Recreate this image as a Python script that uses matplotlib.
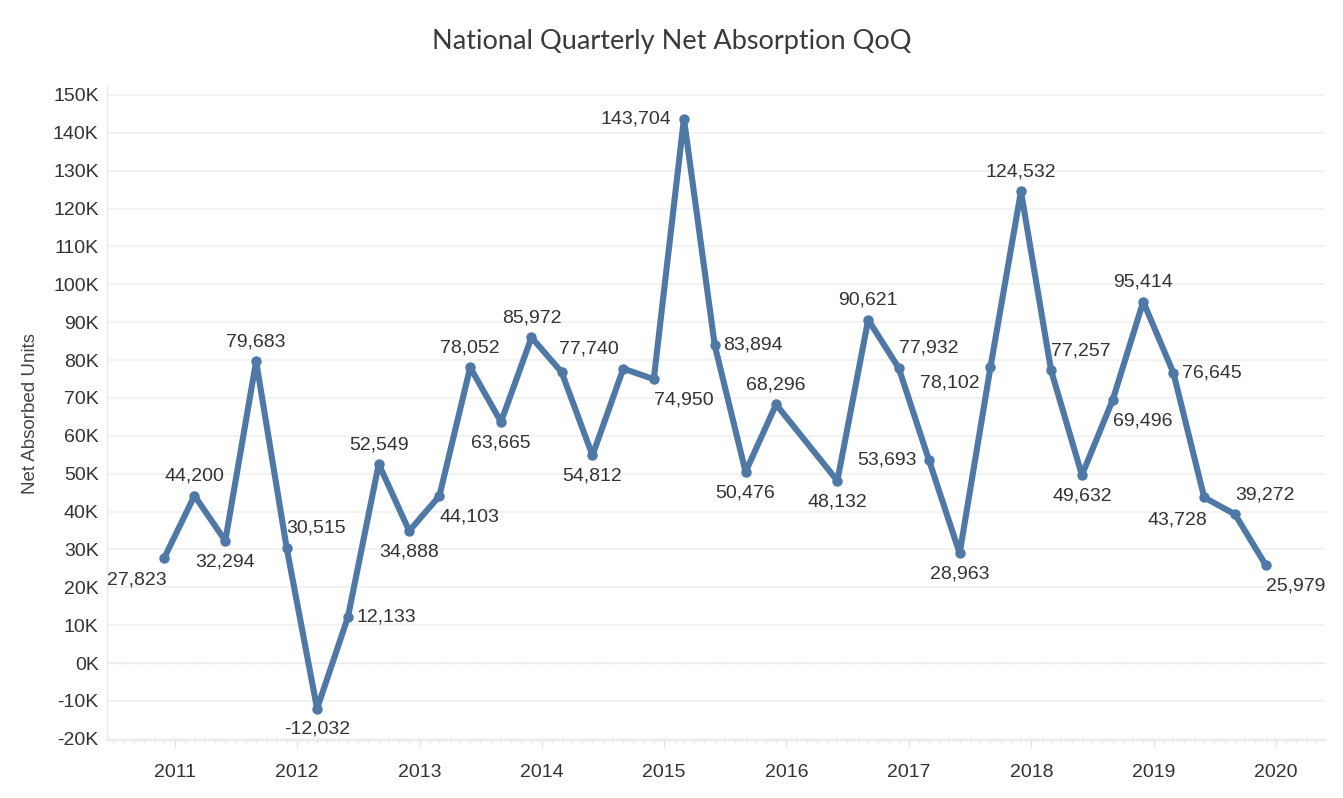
import pandas as pd
import matplotlib.pyplot as plt
import matplotlib.dates as mdates
from matplotlib.ticker import FuncFormatter, MultipleLocator

# ── Data (quarterly, Q1 2016 missing in source) ───────────────
quarters = [
    "2010-12-01", "2011-03-01", "2011-06-01", "2011-09-01",
    "2011-12-01", "2012-03-01", "2012-06-01", "2012-09-01",
    "2012-12-01", "2013-03-01", "2013-06-01", "2013-09-01",
    "2013-12-01", "2014-03-01", "2014-06-01", "2014-09-01",
    "2014-12-01", "2015-03-01", "2015-06-01", "2015-09-01",
    "2015-12-01", "2016-06-01", "2016-09-01",
    "2016-12-01", "2017-03-01", "2017-06-01", "2017-09-01",
    "2017-12-01", "2018-03-01", "2018-06-01", "2018-09-01",
    "2018-12-01", "2019-03-01", "2019-06-01", "2019-09-01",
    "2019-12-01",
]
absorbed = [
    27823, 44200, 32294, 79683,
    30515, -12032, 12133, 52549,
    34888, 44103, 78052, 63665,
    85972, 76800, 54812, 77740,
    74950, 143704, 83894, 50476,
    68296, 48132, 90621,
    77932, 53693, 28963, 78102,
    124532, 77257, 49632, 69496,
    95414, 76645, 43728, 39272,
    25979,
]
# where each value label sits relative to its point ("" = no label)
label_side = [
    "SW", "N", "S", "N",
    "NE", "S", "E", "N",
    "S", "SE", "N", "S",
    "N", "", "S", "NW",
    "SE", "W", "E", "S",
    "N", "S", "N",
    "NE", "W", "S", "WS",
    "N", "NE", "S", "SE",
    "N", "E", "SW", "NE",
    "SE",
]
year_ticks = [str(y) for y in range(2011, 2021)]

dates = pd.to_datetime(quarters)

# ── Style ──────────────────────────────────────────────
blue = "#4e79a7"
text_col = "#333333"
plt.rcParams["font.family"] = ["Liberation Sans", "DejaVu Sans"]

offsets = {
    "N": ((0, 14), "center"), "S": ((0, -15), "center"),
    "E": ((6, 0), "left"), "W": ((-9, 0), "right"),
    "NE": ((0, 14), "left"), "SE": ((0, -15), "left"),
    "NW": ((-3, 14), "right"), "SW": ((2, -16), "right"),
    "WS": ((-8, -11), "right"),
}

fig = plt.figure(figsize=(13.43, 7.98), dpi=100)
ax = fig.add_axes([0.0797, 0.0727, 0.907, 0.8193])

ax.plot(dates, absorbed, color=blue, linewidth=4.4, marker="o",
        markersize=6.5, solid_joinstyle="round", solid_capstyle="round", zorder=3)

for d, v, side in zip(dates, absorbed, label_side):
    if not side:
        continue
    (dx, dy), ha = offsets[side]
    ax.annotate(f"{v:,}", (d, v), xytext=(dx, dy), textcoords="offset points",
                ha=ha, va="center", fontsize=14, color=text_col, zorder=4)

# ── Axes ──────────────────────────────────────────────
ax.set_ylim(-20300, 152300)
ax.set_xlim(pd.Timestamp("2010-06-13"), pd.Timestamp("2020-05-27"))

ax.yaxis.set_major_locator(MultipleLocator(10000))
ax.yaxis.set_major_formatter(FuncFormatter(lambda v, p: f"{v/1000:.0f}K"))
ax.grid(axis="y", color="#efefef", linewidth=1.1, zorder=0)
ax.axhline(0, color="#cfcfcf", linewidth=0.9, linestyle=(0, (1.5, 1)), zorder=1)

ax.set_xticks(pd.to_datetime([f"{y}-01-01" for y in year_ticks]))
ax.set_xticklabels(year_ticks)
ax.xaxis.set_minor_locator(mdates.MonthLocator())

ax.tick_params(axis="y", length=0, labelsize=14, labelcolor=text_col, pad=6)
ax.tick_params(axis="x", which="major", length=5, color="#dddddd",
               labelsize=14, labelcolor=text_col, pad=12)
ax.tick_params(axis="x", which="minor", length=3, color="#e6e6e6")

for s in ["top", "right"]:
    ax.spines[s].set_visible(False)
for s in ["left", "bottom"]:
    ax.spines[s].set_color("#e8e8e8")
    ax.spines[s].set_linewidth(1)

ax.set_ylabel("Net Absorbed Units", fontsize=13.5, color="#444444", labelpad=10)
fig.text(0.5, 0.948, "National Quarterly Net Absorption QoQ", ha="center", va="center",
         fontsize=19.5, color="#3a3a3a", family=["Lato", "DejaVu Sans"], fontweight="normal")

fig.savefig("out.png", dpi=100)
